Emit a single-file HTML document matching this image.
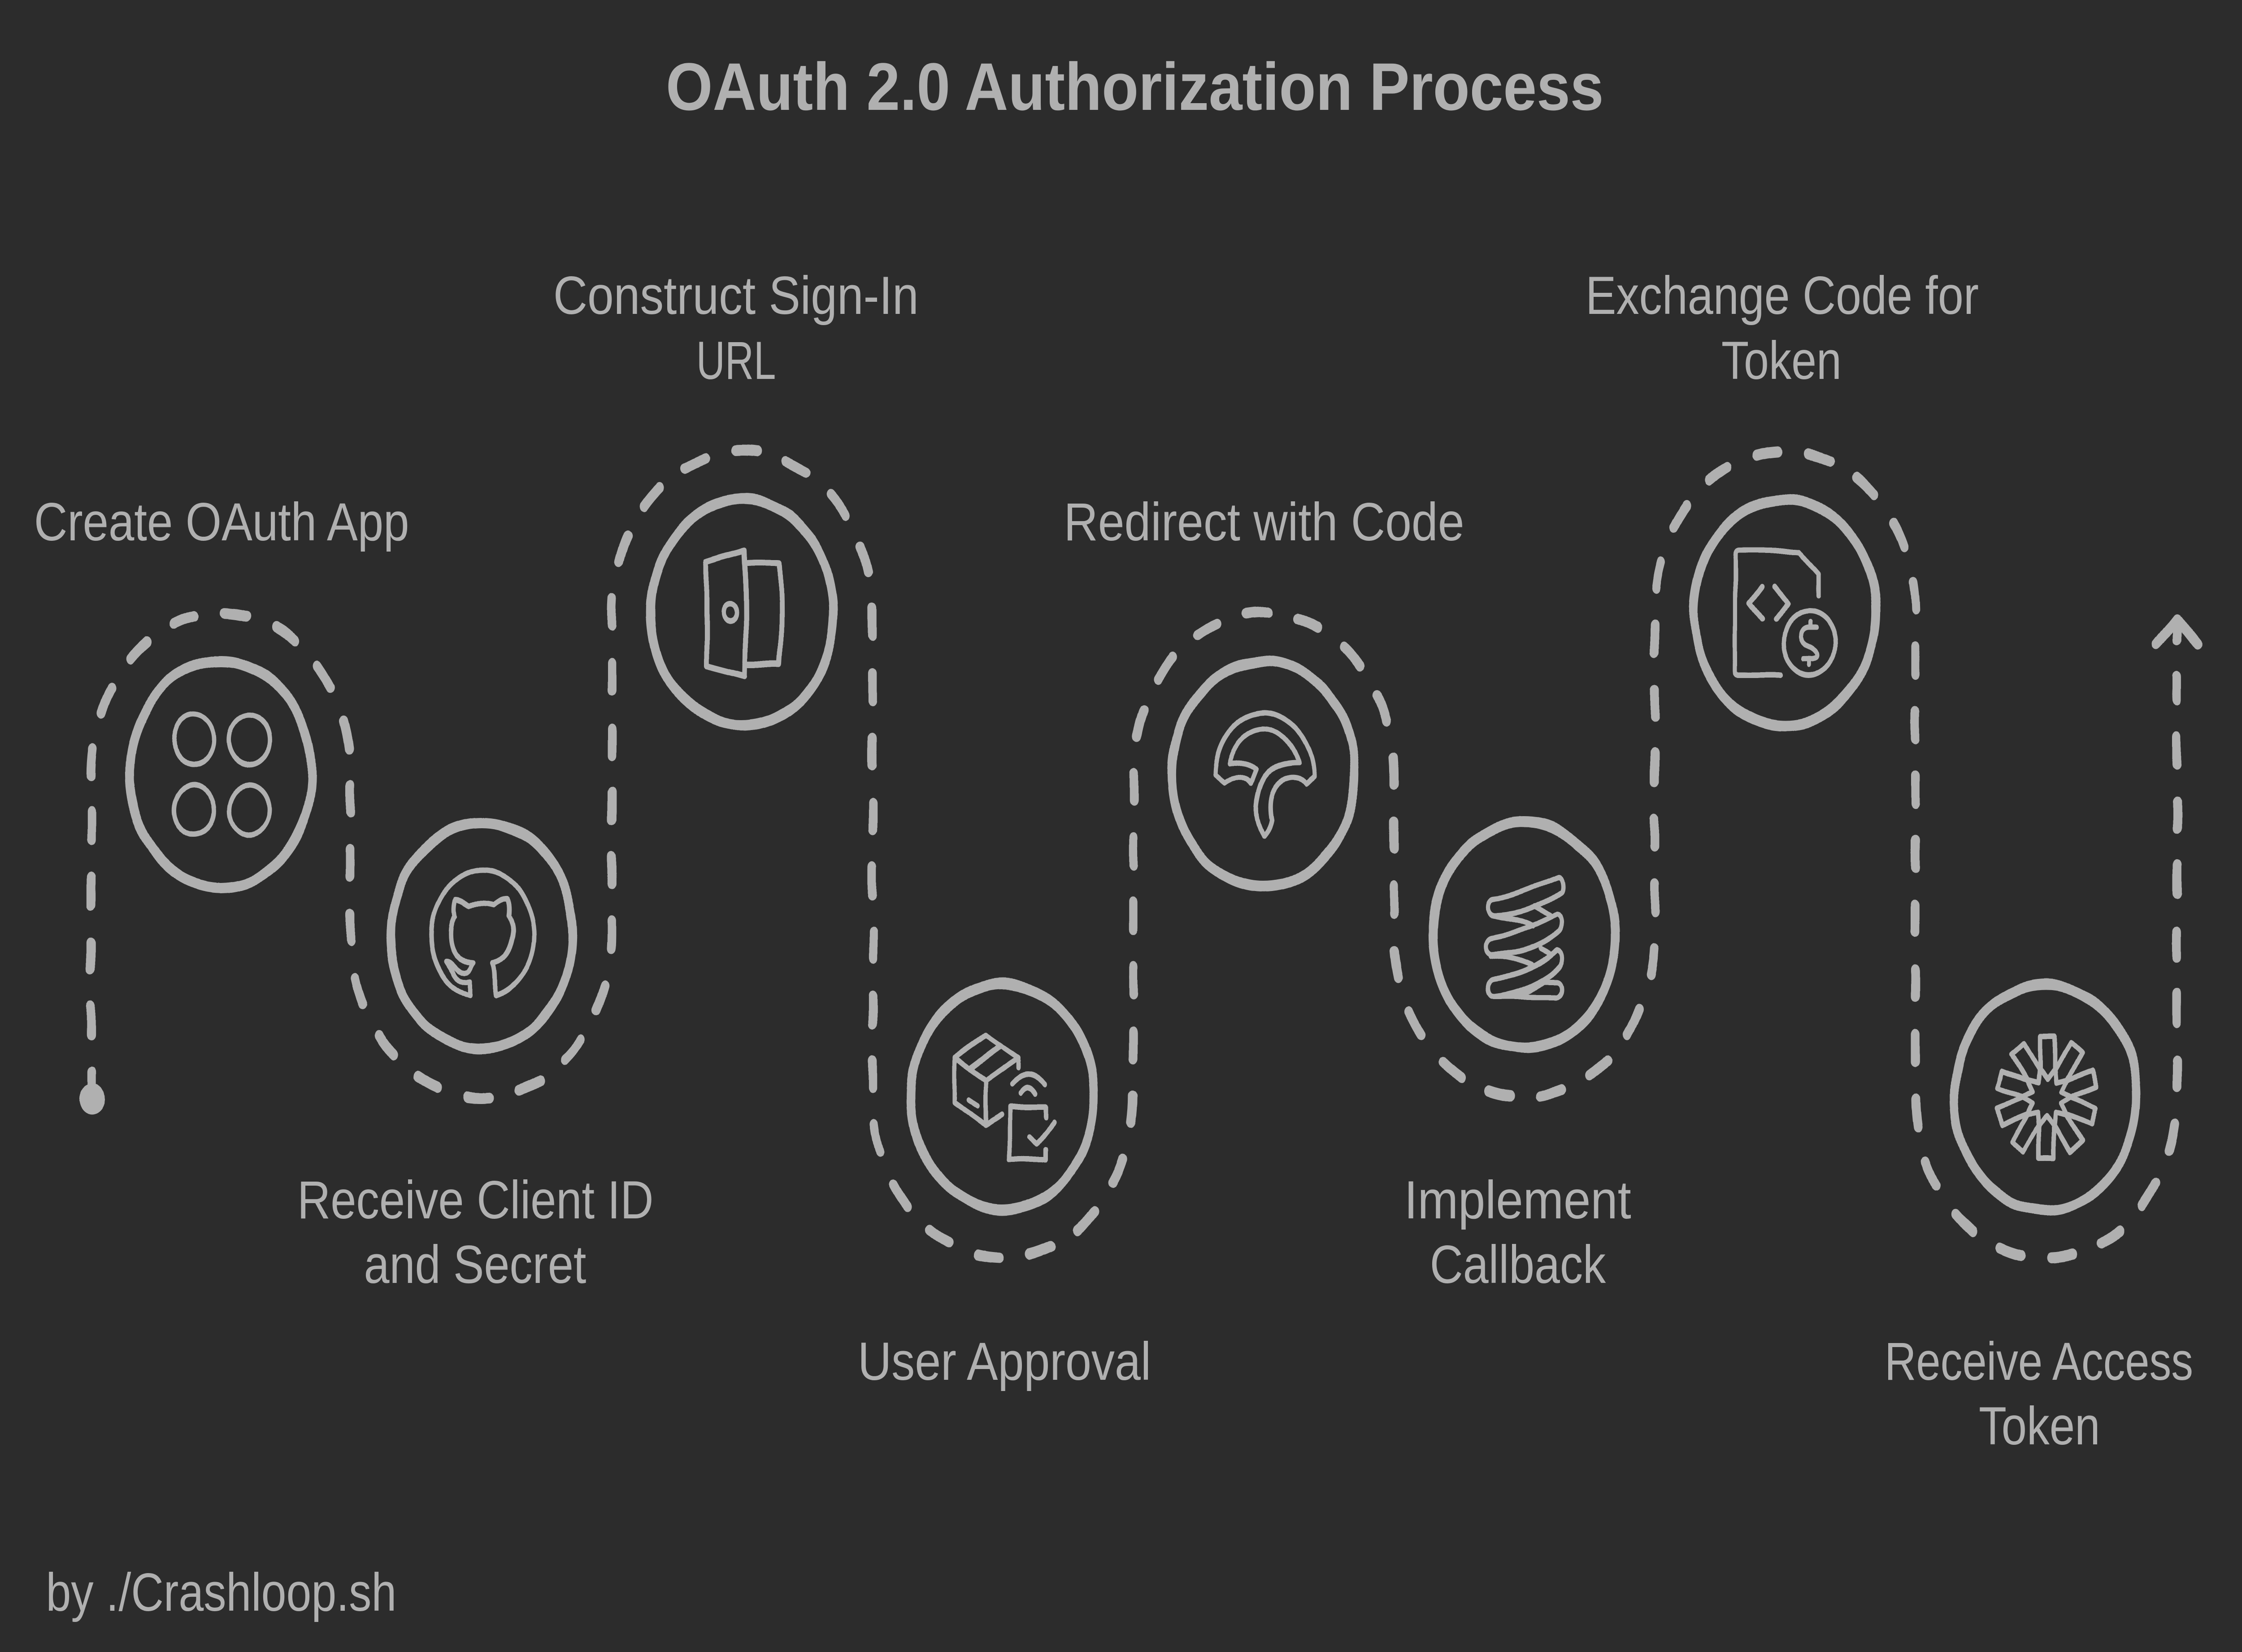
<!DOCTYPE html>
<html>
<head>
<meta charset="utf-8">
<title>OAuth 2.0 Authorization Process</title>
<style>
html,body{margin:0;padding:0;width:100%;height:100%;overflow:hidden;background:#2c2c2c;}
svg{display:block;position:fixed;left:0;top:0;width:100vw;height:100vh;}
text{font-family:"Liberation Sans",sans-serif;font-size:120px;fill:#b0b0b0;}
.t{font-size:150px;font-weight:bold;}
.s{fill:none;stroke:#b0b0b0;stroke-linecap:round;stroke-linejoin:round;}
</style>
</head>
<body>
<svg xmlns="http://www.w3.org/2000/svg" viewBox="0 0 6192 3684" preserveAspectRatio="none">
<defs>
<filter id="w" x="0" y="0" width="6192" height="3684" filterUnits="userSpaceOnUse" color-interpolation-filters="sRGB">
<feTurbulence type="fractalNoise" baseFrequency="0.007" numOctaves="2" seed="4"/>
<feDisplacementMap in="SourceGraphic" scale="14" xChannelSelector="R" yChannelSelector="G"/>
</filter>
</defs>
<rect width="6192" height="3684" fill="#2c2c2c"/>

<g filter="url(#w)">
<!-- dashed path -->
<path class="s" stroke-width="24" stroke-dasharray="61 83" d="M252 2449 V1726 A358 358 0 0 1 968 1726 V2086 A361 361 0 0 0 1690 2086 V1366 A360 360 0 0 1 2410 1366 V2446 A360 360 0 0 0 3130 2446 V1726 A360 360 0 0 1 3850 1726 V2086 A360 360 0 0 0 4570 2086 V1366 A360 360 0 0 1 5290 1366 V2446 A361 361 0 0 0 6012 2446 V1510"/>
<circle cx="252" cy="2449" r="36" fill="#b0b0b0"/>
<path class="s" stroke-width="24" d="M5957 1436 L6012 1380 L6067 1436 M6012 1380 V1428"/>

<!-- circles -->
<g class="s" stroke-width="24">
<circle cx="610" cy="1726" r="252"/>
<circle cx="1330" cy="2086" r="252"/>
<circle cx="2050" cy="1366" r="252"/>
<circle cx="2770" cy="2446" r="252"/>
<circle cx="3490" cy="1726" r="252"/>
<circle cx="4210" cy="2086" r="252"/>
<circle cx="4930" cy="1366" r="252"/>
<circle cx="5650" cy="2446" r="252"/>
</g>

<g class="s" stroke-width="12">
<!-- icon 1 -->
<circle cx="536" cy="1650" r="56"/>
<circle cx="689" cy="1650" r="56"/>
<circle cx="536" cy="1805" r="56"/>
<circle cx="689" cy="1805" r="56"/>

<!-- icon 2 github -->
<path d="M1298 2222 A142 142 0 1 1 1369 2222 C1368 2190 1370 2165 1362 2150 C1395 2145 1410 2120 1418 2085 C1422 2065 1415 2050 1408 2042 C1410 2030 1410 2015 1404 2006 C1392 2005 1380 2012 1368 2020 C1345 2015 1320 2015 1296 2020 C1285 2015 1272 2006 1258 2006 C1254 2015 1252 2030 1256 2042 C1248 2050 1244 2065 1244 2082 C1244 2125 1270 2145 1308 2149 C1300 2155 1300 2170 1285 2170 C1262 2170 1250 2140 1232 2142 L1250 2165 C1258 2180 1270 2195 1298 2190 Z"/>

<!-- icon 3 door -->
<path stroke-width="14" d="M1950 1251 L2055 1226 C2060 1300 2060 1430 2058 1506 L1950 1483 Z"/>
<path stroke-width="14" d="M2062 1255 H2154 C2160 1330 2160 1410 2154 1481 H2062"/>
<circle cx="2015" cy="1368" r="18"/>

<!-- icon 4 box -->
<path d="M2635 2360 L2723 2309 L2813 2360 L2723 2411 Z"/>
<path d="M2635 2360 V2457 L2723 2508 V2411 M2723 2508 L2767 2485 M2813 2360 V2383"/>
<path stroke-width="14" d="M2680 2383 L2760 2335"/>
<path d="M2675 2452 L2701 2466"/>
<path d="M2794 2419 Q2841 2377 2885 2419 M2818 2438 Q2839 2413 2859 2439"/>
<path d="M2887 2490 V2467 H2790 V2585 H2885 V2562"/>
<path d="M2843 2533 L2862 2550 L2910 2500"/>

<!-- icon 5 -->
<path d="M3354 1728 C3354 1660 3410 1590 3492 1589 C3570 1590 3630 1660 3630 1728 L3607 1746 C3590 1730 3555 1728 3535 1745 C3512 1762 3500 1790 3510 1832 C3505 1850 3497 1858 3489 1866 C3475 1845 3465 1820 3469 1795 C3478 1750 3495 1700 3589 1701 C3575 1655 3530 1625 3487 1626 C3440 1628 3405 1665 3395 1701 C3425 1698 3450 1705 3471 1719 L3456 1750 C3440 1730 3405 1730 3380 1746 Z"/>

<!-- icon 6 spring -->
<path d="M4126 2005 C4190 2000 4240 1975 4306 1955 C4318 1955 4322 1985 4313 1990 C4250 2025 4190 2042 4126 2042 C4102 2040 4102 2005 4126 2005 Z"/>
<path d="M4122 2090 C4190 2080 4250 2065 4302 2040 C4318 2040 4322 2070 4306 2080 C4260 2110 4210 2125 4164 2125 L4122 2127 C4098 2125 4098 2092 4122 2090 Z"/>
<path d="M4126 2182 C4190 2175 4250 2155 4302 2120 C4320 2120 4322 2148 4306 2157 C4250 2195 4190 2215 4126 2222 C4104 2222 4104 2184 4126 2182 Z"/>
<path d="M4126 2222 H4298 C4318 2218 4318 2187 4298 2187 H4264 C4240 2200 4220 2212 4190 2220"/>
<path d="M4126 2042 C4160 2048 4200 2052 4235 2067 M4237 2023 L4283 2043 M4118 2130 C4160 2132 4195 2140 4229 2153 M4256 2117 L4279 2127"/>

<!-- icon 7 -->
<path d="M4918 1506 H4804 Q4794 1506 4794 1497 V1240 Q4794 1230 4804 1230 H4968 L5022 1280 V1327"/>
<path stroke-width="13" d="M4867 1307 L4832 1344 L4867 1381 M4902 1307 L4938 1344 L4902 1381"/>
<circle cx="4997" cy="1433" r="73"/>
<path d="M4998 1385 V1394 M5016 1398 H4994 C4965 1398 4965 1432 4990 1440 C5030 1452 5030 1470 5003 1470 H4980 M4998 1472 V1483"/>

<!-- icon 8 star -->
<g transform="translate(5653 2448)">
<path d="M-20 -136 H20 V-64 L0 -42 L-20 -64 Z"/>
<path transform="rotate(36)" d="M-20 -136 H20 V-64 L0 -42 L-20 -64 Z"/>
<path transform="rotate(72)" d="M-20 -136 H20 V-64 L0 -42 L-20 -64 Z"/>
<path transform="rotate(108)" d="M-20 -136 H20 V-64 L0 -42 L-20 -64 Z"/>
<path transform="rotate(144)" d="M-20 -136 H20 V-64 L0 -42 L-20 -64 Z"/>
<path transform="rotate(180)" d="M-20 -136 H20 V-64 L0 -42 L-20 -64 Z"/>
<path transform="rotate(216)" d="M-20 -136 H20 V-64 L0 -42 L-20 -64 Z"/>
<path transform="rotate(252)" d="M-20 -136 H20 V-64 L0 -42 L-20 -64 Z"/>
<path transform="rotate(288)" d="M-20 -136 H20 V-64 L0 -42 L-20 -64 Z"/>
<path transform="rotate(324)" d="M-20 -136 H20 V-64 L0 -42 L-20 -64 Z"/>
</g>
</g>
</g>

<!-- labels -->
<text class="t" x="1839" y="245" textLength="2590" lengthAdjust="spacingAndGlyphs">OAuth 2.0 Authorization Process</text>
<text x="1528" y="700" textLength="1009" lengthAdjust="spacingAndGlyphs">Construct Sign-In</text>
<text x="1923" y="845" textLength="220" lengthAdjust="spacingAndGlyphs">URL</text>
<text x="94" y="1205" textLength="1036" lengthAdjust="spacingAndGlyphs">Create OAuth App</text>
<text x="2938" y="1205" textLength="1106" lengthAdjust="spacingAndGlyphs">Redirect with Code</text>
<text x="4379" y="700" textLength="1086" lengthAdjust="spacingAndGlyphs">Exchange Code for</text>
<text x="4754" y="845" textLength="332" lengthAdjust="spacingAndGlyphs">Token</text>
<text x="821" y="2717" textLength="984" lengthAdjust="spacingAndGlyphs">Receive Client ID</text>
<text x="1005" y="2861" textLength="614" lengthAdjust="spacingAndGlyphs">and Secret</text>
<text x="2369" y="3077" textLength="810" lengthAdjust="spacingAndGlyphs">User Approval</text>
<text x="3878" y="2717" textLength="627" lengthAdjust="spacingAndGlyphs">Implement</text>
<text x="3949" y="2861" textLength="486" lengthAdjust="spacingAndGlyphs">Callback</text>
<text x="5205" y="3077" textLength="852" lengthAdjust="spacingAndGlyphs">Receive Access</text>
<text x="5465" y="3221" textLength="335" lengthAdjust="spacingAndGlyphs">Token</text>
<text x="127" y="3592" textLength="968" lengthAdjust="spacingAndGlyphs">by ./Crashloop.sh</text>
</svg>
</body>
</html>
